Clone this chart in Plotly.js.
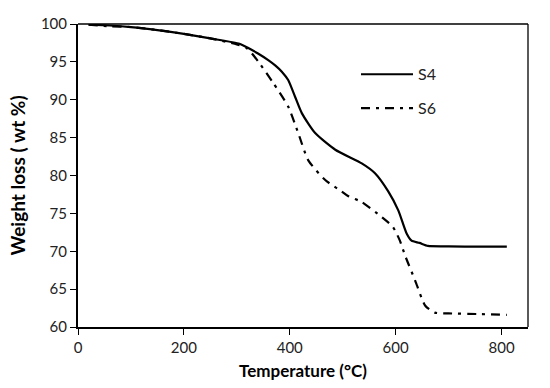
<!DOCTYPE html>
<html>
<head>
<meta charset="utf-8">
<script src="https://cdn.plot.ly/plotly-3.0.1.min.js"></script>
<style>html,body{margin:0;padding:0;background:#fff;}#chart{width:550px;height:388px;}</style>
</head>
<body>
<div id="chart"></div>
<script>
var s4Temp = [20, 60, 100, 150, 200, 250, 305, 320, 340, 360, 373, 385, 397, 410, 423, 448, 486, 536, 561, 586, 605, 621, 630, 645, 661, 700, 760, 810];
var s4Weight = [99.9, 99.8, 99.6, 99.2, 98.7, 98.1, 97.4, 96.9, 96.1, 95.2, 94.5, 93.7, 92.6, 90.4, 88.2, 85.6, 83.4, 81.6, 80.3, 77.9, 75.4, 72.3, 71.4, 71.1, 70.7, 70.65, 70.6, 70.6];
var s6Temp = [20, 60, 100, 150, 200, 250, 300, 319, 341, 369, 397, 416, 435, 467, 498, 510, 536, 574, 595, 608, 618, 637, 656, 674, 700, 760, 810];
var s6Weight = [99.9, 99.7, 99.6, 99.2, 98.7, 98.1, 97.3, 96.8, 95.0, 92.2, 89.1, 85.6, 82.0, 79.4, 77.9, 77.3, 76.5, 74.5, 73.2, 71.4, 69.4, 66.1, 62.8, 61.9, 61.8, 61.7, 61.6];
var xTicks = [0, 200, 400, 600, 800];
var yTicks = [60, 65, 70, 75, 80, 85, 90, 95, 100];

var font = 'Lato, "Open Sans", sans-serif';
var traces = [
  {x: s4Temp, y: s4Weight, name: 'S4', legendgroup: 'a', mode: 'lines', line: {color: '#000', width: 2.2, shape: 'spline', smoothing: 0.6}},
  {x: s6Temp, y: s6Weight, name: 'S6', legendgroup: 'b', mode: 'lines', line: {color: '#000', width: 2.2, dash: '9px,6px,3px,6px', shape: 'spline', smoothing: 0.6}}
];
var layout = {
  width: 550, height: 388,
  margin: {l: 78, r: 22, t: 24, b: 61},
  paper_bgcolor: '#fff', plot_bgcolor: '#fff',
  font: {family: font, size: 14, color: '#222'},
  showlegend: true,
  legend: {x: 0.6178, y: 0.89, xanchor: 'left', yanchor: 'top', bgcolor: 'rgba(0,0,0,0)', font: {size: 16, family: font, color: '#222'}, itemwidth: 52, tracegroupgap: 10},
  xaxis: {
    range: [0, 850], tickvals: xTicks, ticktext: xTicks.map(String),
    showgrid: false, zeroline: false, showline: true, linecolor: '#000', linewidth: 2,
    ticks: 'outside', ticklen: 6, tickcolor: '#000', tickwidth: 1,
    tickfont: {size: 15, family: font, color: '#222'},
    title: {text: '<b>Temperature (°C)</b>', font: {size: 17, family: font, color: '#000'}, standoff: 10}
  },
  yaxis: {
    range: [60, 100], tickvals: yTicks, ticktext: yTicks.map(String),
    showgrid: false, zeroline: false, showline: true, linecolor: '#000', linewidth: 2,
    ticks: 'outside', ticklen: 6, tickcolor: '#000', tickwidth: 1,
    tickfont: {size: 15, family: font, color: '#222'},
    title: {text: '<b>Weight loss ( wt %)</b>', font: {size: 19, family: font, color: '#000'}, standoff: 10}
  },
  shapes: [
    {type: 'line', xref: 'paper', yref: 'paper', x0: 0, x1: 1, y0: 1, y1: 1, line: {color: '#000', width: 1.3}},
    {type: 'line', xref: 'paper', yref: 'paper', x0: 1, x1: 1, y0: 0, y1: 1, line: {color: '#000', width: 1.3}}
  ]
};
Plotly.newPlot('chart', traces, layout, {displayModeBar: false, staticPlot: true});
</script>
</body>
</html>
